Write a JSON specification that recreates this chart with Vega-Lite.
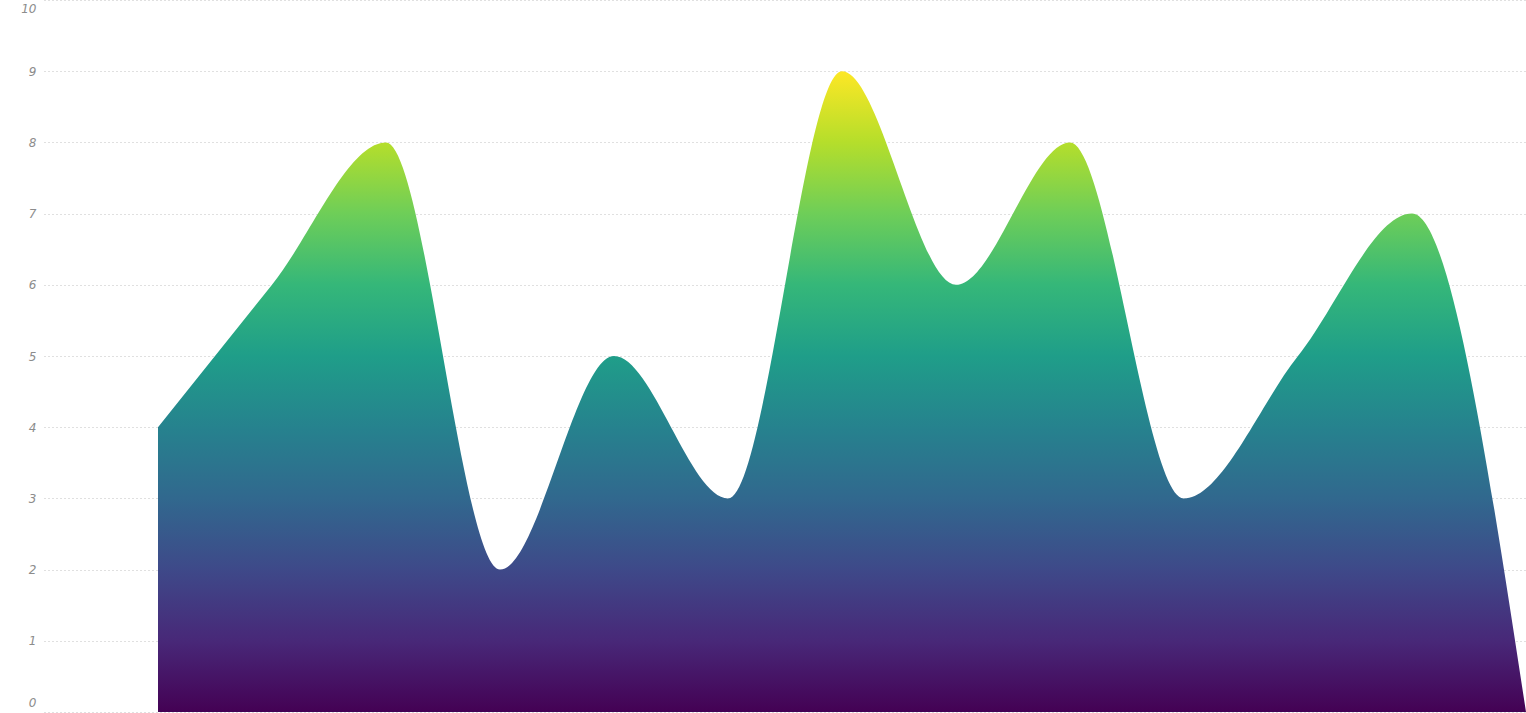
{
  "$schema": "https://vega.github.io/schema/vega-lite/v6.json",
  "width": 1482,
  "height": 712,
  "autosize": "none",
  "padding": {"left": 44, "top": 0, "right": 0, "bottom": 1},
  "background": "white",
  "config": {"view": {"stroke": null}},
  "data": {"values": [
    {"x": 0, "y": 4}, {"x": 1, "y": 6}, {"x": 2, "y": 8}, {"x": 3, "y": 2},
    {"x": 4, "y": 5}, {"x": 5, "y": 3}, {"x": 6, "y": 9}, {"x": 7, "y": 6},
    {"x": 8, "y": 8}, {"x": 9, "y": 3}, {"x": 10, "y": 5}, {"x": 11, "y": 7},
    {"x": 12, "y": 0}
  ]},
  "mark": {
    "type": "area",
    "interpolate": "monotone",
    "color": {
      "gradient": "linear",
      "x1": 1, "y1": 1, "x2": 1, "y2": 0,
      "stops": [
        {"offset": 0, "color": "#440154"},
        {"offset": 0.111, "color": "#482878"},
        {"offset": 0.222, "color": "#3e4989"},
        {"offset": 0.333, "color": "#31688e"},
        {"offset": 0.444, "color": "#26828e"},
        {"offset": 0.556, "color": "#1f9e89"},
        {"offset": 0.667, "color": "#35b779"},
        {"offset": 0.778, "color": "#6ece58"},
        {"offset": 0.889, "color": "#b5de2b"},
        {"offset": 1, "color": "#fde725"}
      ]
    }
  },
  "encoding": {
    "x": {
      "field": "x", "type": "quantitative",
      "scale": {"domain": [-1, 12], "nice": false, "zero": false},
      "axis": null
    },
    "y": {
      "field": "y", "type": "quantitative",
      "scale": {"domain": [0, 10], "nice": false},
      "axis": {
        "title": null,
        "values": [0,1,2,3,4,5,6,7,8,9,10],
        "domain": false,
        "ticks": false,
        "labelPadding": 8,
        "labelFont": "DejaVu Sans",
        "labelFontStyle": "italic",
        "labelFontSize": 12,
        "labelColor": "#8c8c8c",
        "labelFlush": true,
        "labelFlushOffset": -3,
        "labelOverlap": false,
        "grid": true,
        "gridColor": "#c0c0c0",
        "gridDash": [1, 3],
        "gridWidth": 1
      }
    }
  }
}
